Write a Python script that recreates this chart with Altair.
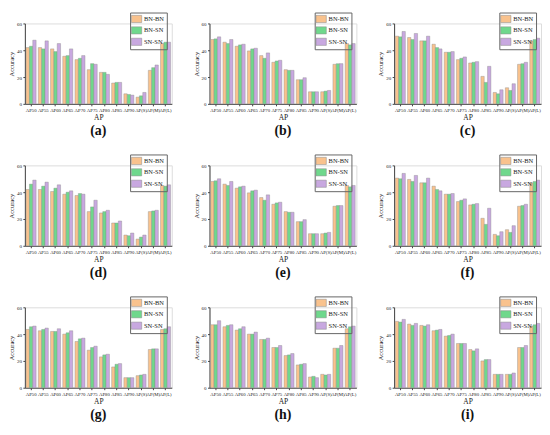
import altair as alt
import pandas as pd

AP = ["AP50", "AP55", "AP60", "AP65", "AP70", "AP75", "AP80", "AP85", "AP90", "AP(S)", "AP(M)", "AP(L)"]
SERIES = ["BN-BN", "BN-SN", "SN-SN"]
COLORS = ["#F9C28D", "#6FD88C", "#C8A8E0"]
LABELS = ["(a)", "(b)", "(c)", "(d)", "(e)", "(f)", "(g)", "(h)", "(i)"]

a_bnbn = [42, 42, 41, 35.5, 33, 25.5, 23.5, 15.5, 7.5, 5, 25, 45]
a_bnsn = [43, 41, 39, 36, 34, 30, 23.5, 16, 7, 6, 27, 46]
a_snsn = [47.5, 47, 45, 41, 36, 29.5, 22, 16, 6.5, 8.5, 29, 46]

b_bnbn = [48, 46, 43, 39.5, 36, 31, 25.5, 18, 9, 9, 29.5, 45]
b_bnsn = [48.5, 45, 44, 41, 34, 32, 25, 18, 9, 9.5, 30, 44]
b_snsn = [50, 48, 44.5, 41.5, 38, 32.5, 25, 19.5, 9, 10, 30, 45]

c_bnbn = [50.5, 49.5, 47, 44.5, 38.5, 33, 30.5, 20.5, 8.5, 12, 29.5, 47]
c_bnsn = [50, 48, 47, 42, 38.5, 34, 31, 16, 7.5, 10, 30, 48]
c_snsn = [54, 52.5, 50.5, 41, 39, 35, 31.5, 28, 10.5, 15, 31, 49]

d_bnbn = [42, 42, 40.5, 38.5, 37.5, 25.5, 24.5, 17, 8, 5, 25.5, 45]
d_bnsn = [46, 44.5, 43, 40, 39, 29, 25.5, 17, 7.5, 6.5, 26, 44.5]
d_snsn = [49, 47.5, 45.5, 41, 38.5, 34, 26.5, 18.5, 9.5, 8, 26.5, 45.5]

e_bnbn = [48, 46, 43, 39.5, 36, 31, 25.5, 18, 9, 9, 29.5, 45]
e_bnsn = [48.5, 45, 44, 41, 34, 32, 25, 18, 9, 9.5, 30, 44]
e_snsn = [50, 48, 44.5, 41.5, 38, 32.5, 25, 19.5, 9, 10, 30, 45]

f_bnbn = [50.5, 49.5, 47, 44.5, 38.5, 33, 30.5, 20.5, 8.5, 12, 29.5, 47]
f_bnsn = [50, 48, 47, 42, 38.5, 34, 31, 16, 7.5, 10, 30, 48]
f_snsn = [54, 52.5, 50.5, 41, 39, 35, 31.5, 28, 10.5, 15, 31, 49]

g_bnbn = [43.5, 42.5, 42, 40, 34.5, 28, 23, 15.5, 7.5, 9, 28.5, 43.5]
g_bnsn = [45.5, 43.5, 42, 41, 36.5, 30, 24.5, 17.5, 7.5, 9.5, 29, 44]
g_snsn = [46, 44.5, 44, 42.5, 37, 31, 25, 18, 7.5, 10, 29, 45.5]

h_bnbn = [47, 45.5, 43, 40, 36, 30, 24, 17, 8, 10, 29.5, 44]
h_bnsn = [47, 46.5, 44, 40, 36, 30, 24.5, 17.5, 8.5, 9.5, 29.5, 45.5]
h_snsn = [50, 47, 45.5, 41.5, 37, 31.5, 25.5, 18, 7.5, 10, 31.5, 46]

i_bnbn = [49.5, 47.5, 46.5, 42.5, 38.5, 33, 28.5, 20, 10, 10, 30, 46]
i_bnsn = [49, 46.5, 46, 43, 39, 33, 27.5, 21, 10, 10, 30, 47]
i_snsn = [51, 48, 47, 43.5, 40, 33, 29, 21, 10, 11, 31.5, 48]

PANEL_DATA = [
    (a_bnbn, a_bnsn, a_snsn), (b_bnbn, b_bnsn, b_snsn), (c_bnbn, c_bnsn, c_snsn),
    (d_bnbn, d_bnsn, d_snsn), (e_bnbn, e_bnsn, e_snsn), (f_bnbn, f_bnsn, f_snsn),
    (g_bnbn, g_bnsn, g_snsn), (h_bnbn, h_bnsn, h_snsn), (i_bnbn, i_bnsn, i_snsn),
]

FONT = "Liberation Serif"
W, H = 148, 81


def panel(label, series_values):
    rows = []
    for s, vals in zip(SERIES, series_values):
        for ap, v in zip(AP, vals):
            rows.append({"AP": ap, "series": s, "value": v})
    df = pd.DataFrame(rows)
    return alt.Chart(
        df,
        title=alt.TitleParams(label, orient="bottom", font=FONT, fontSize=14,
                              fontWeight="bold", offset=3, color="#111"),
    ).mark_bar(stroke="#8a8a8a", strokeWidth=0.4).encode(
        x=alt.X("AP:N", sort=AP,
                scale=alt.Scale(paddingInner=0.18, paddingOuter=0.1),
                axis=alt.Axis(title="AP", labelAngle=0, labelFontSize=4.8, labelOverlap=False,
                              labelFont=FONT, titleFont=FONT, titleFontSize=7.5,
                              titleFontWeight="normal", titlePadding=1, labelPadding=2,
                              tickSize=2, domainColor="#444", tickColor="#444",
                              labelColor="#222", titleColor="#222")),
        xOffset=alt.XOffset("series:N", sort=SERIES),
        y=alt.Y("value:Q", scale=alt.Scale(domain=[0, 60]),
                axis=alt.Axis(values=[0, 20, 40, 60], title="Accuracy", grid=False,
                              labelFontSize=5, labelFont=FONT, titleFont=FONT,
                              titleFontSize=6.5, titleFontWeight="normal", titlePadding=2,
                              tickSize=2, labelPadding=1.5, domainColor="#444",
                              tickColor="#444", labelColor="#222", titleColor="#222")),
        color=alt.Color("series:N", sort=SERIES,
                        scale=alt.Scale(domain=SERIES, range=COLORS),
                        legend=alt.Legend(title=None, orient="none", legendX=106, legendY=-11,
                                          symbolType="M-1.3,-0.9H1.3V0.9H-1.3Z", symbolSize=64,
                                          symbolStrokeColor="#888", symbolStrokeWidth=0.5,
                                          symbolOpacity=1, labelFont=FONT, labelFontSize=6.5,
                                          labelColor="#222", labelOffset=3, rowPadding=0.5,
                                          padding=2, strokeColor="#666")),
    ).properties(width=W, height=H)


charts = [panel(lbl, d) for lbl, d in zip(LABELS, PANEL_DATA)]
rows = [
    alt.hconcat(*charts[r * 3:(r + 1) * 3], spacing=20).resolve_scale(color="independent")
    for r in range(3)
]
chart = alt.vconcat(*rows, spacing=15).resolve_scale(color="independent").properties(
    padding={"top": 2, "left": 0, "right": 0, "bottom": 0}
).configure_view(stroke=None).configure(font=FONT)

chart.save("out.html", embed_options={"renderer": "svg", "actions": False})
